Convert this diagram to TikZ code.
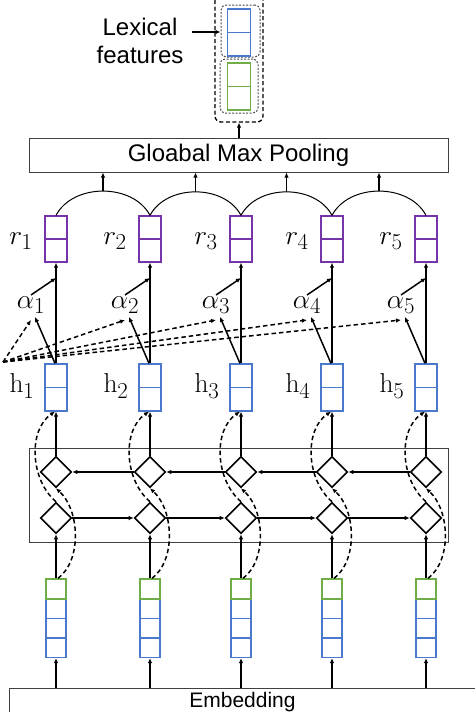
\documentclass[tikz,border=0pt]{standalone}
\usepackage[no-math]{fontspec}
\setmainfont{Liberation Sans}
\usetikzlibrary{shapes.geometric,arrows.meta}
\definecolor{cblue}{HTML}{4A78CC}
\definecolor{cgreen}{HTML}{70AD47}
\definecolor{cpurple}{HTML}{7535A8}
\begin{document}
\begin{tikzpicture}[x=1pt,y=-1pt,
  arr/.style={-{Latex[length=5pt,width=4.5pt]}, line width=1.5pt},
  darr/.style={arr, dash pattern=on 4.5pt off 3pt},
  cellbox/.style={draw, line width=1.3pt, minimum width=22pt, inner sep=0pt},
  hbox/.style={cellbox, draw=cblue, minimum height=47pt},
  rbox/.style={cellbox, draw=cpurple, minimum height=46pt},
  stackb/.style={cellbox, draw=cblue, minimum width=20pt, minimum height=58.5pt},
  stackg/.style={cellbox, draw=cgreen, minimum width=20pt, minimum height=20pt},
  dia/.style={draw, diamond, line width=1.6pt, minimum width=31pt, minimum height=31pt, inner sep=0pt, aspect=1},
  mlab/.style={font=\fontsize{24.88}{30}\selectfont, inner sep=0pt, scale=1.1, transform shape},
  tlab/.style={font=\fontsize{24}{28}\selectfont},
  bigbox/.style={draw=black!75, line width=1pt, inner sep=0pt},
]
\useasboundingbox (0,0) rectangle (474,712);

% Embedding
\node[bigbox, anchor=north west, minimum width=466pt, minimum height=28pt,
      font=\fontsize{21}{25}\selectfont] (emb) at (9,688) {Embedding};
% BiLSTM frame
\node[bigbox, minimum width=419pt, minimum height=94pt] (lstm) at (238.5,495) {};
% Pooling
\node[bigbox, minimum width=419pt, minimum height=34pt, tlab] (pool) at (238.5,155) {Gloabal Max Pooling};

\foreach \i/\cx in {1/56,2/150,3/241,4/332,5/426}{
  % input stack
  \node[stackb] (sb\i) at (\cx,628.25) {};
  \node[stackg] (sg\i) at (\cx,589) {};
  \draw[cblue, line width=1.3pt] (\cx-10,618.5) -- (\cx+10,618.5) (\cx-10,638) -- (\cx+10,638);
  % diamonds
  \node[dia] (f\i) at (\cx,518) {};
  \node[dia] (b\i) at (\cx,472) {};
  % h and r boxes
  \node[hbox] (h\i) at (\cx,387.5) {};
  \draw[cblue, line width=1.3pt] (h\i.west) -- (h\i.east);
  \node[rbox] (r\i) at (\cx,239) {};
  \draw[cpurple, line width=1.3pt] (r\i.west) -- (r\i.east);
  % labels
  \node[mlab] (hl\i) at (\cx-34,386) {$\mathrm{h}_{\i}$};
  \node[mlab] (rl\i) at (\cx-35,241) {$r_{\i}$};
  \node[mlab] (a\i) at (\cx-25,305) {$\alpha_{\i}$};
  \coordinate (ain\i) at (\cx-21,317);
  \coordinate (din\i) at (\cx-25,320);
  \coordinate (aout\i) at (\cx-25,295);
  \coordinate (ajoin\i) at (\cx,278);
  % solid arrows
  \draw[arr] (sb\i.south |- emb.north) -- (sb\i.south);
  \draw[arr] (sg\i.north) -- (f\i.south);
  \draw[arr] (b\i.north) -- (h\i.south);
  \draw[arr] (h\i.north) -- (r\i.south);
  \draw[arr] ([xshift=-1pt]h\i.north) -- (ain\i);
  \draw[arr] (aout\i) -- (ajoin\i);
  % dashed LSTM links
  \draw[darr] ([xshift=2pt]sg\i.north) .. controls +(24,-18) and +(24,22) .. (b\i.south);
  \draw[darr] (f\i.north) .. controls +(-26,-22) and +(-27,18) .. ([xshift=-1pt]h\i.south);
}
% recurrent arrows
\foreach \i/\j in {1/2,2/3,3/4,4/5}{
  \draw[arr] (f\i.east) -- (f\j.west);
  \draw[arr] (b\j.west) -- (b\i.east);
  \draw[line width=1pt] (r\i.north) to[out=62,in=118] coordinate[pos=0.5] (pk\i) (r\j.north);
  \draw[arr] (pk\i) -- (pk\i |- pool.south);
}
% attention fan
\coordinate (src) at (3,362);
\foreach \i in {1,...,5}{
  \draw[darr] (src) -- (din\i);
}

% Lexical features
\node[draw, rounded corners=6pt, line width=1.3pt, dash pattern=on 4pt off 2.5pt,
      minimum width=48pt, minimum height=128pt, inner sep=0pt] (outer) at (239,58) {};
\node[draw=black!70, rounded corners=5pt, line width=1pt, dash pattern=on 2pt off 1.5pt,
      minimum width=39pt, minimum height=52pt, inner sep=0pt] (lexb) at (240.5,31) {};
\node[draw=black!70, rounded corners=5pt, line width=1pt, dash pattern=on 2pt off 1.5pt,
      minimum width=38pt, minimum height=54pt, inner sep=0pt] (lexg) at (239,86) {};
\node[cellbox, draw=cblue, minimum width=23pt, minimum height=47pt] (vb) at (239,32.5) {};
\draw[cblue, line width=1.3pt] (vb.west) -- (vb.east);
\node[cellbox, draw=cgreen, minimum width=23pt, minimum height=47pt] (vg) at (239,86.5) {};
\draw[cgreen, line width=1.3pt] (vg.west) -- (vg.east);
\node[tlab, align=center, inner sep=0pt] (lex) at (140,41) {Lexical\\features};
\coordinate (lexarr) at (192,32);
\draw[arr] (lexarr) -- (lexb.west |- lexarr);
\draw[arr] (pool.north -| outer.south) -- (outer.south);
\end{tikzpicture}
\end{document}
